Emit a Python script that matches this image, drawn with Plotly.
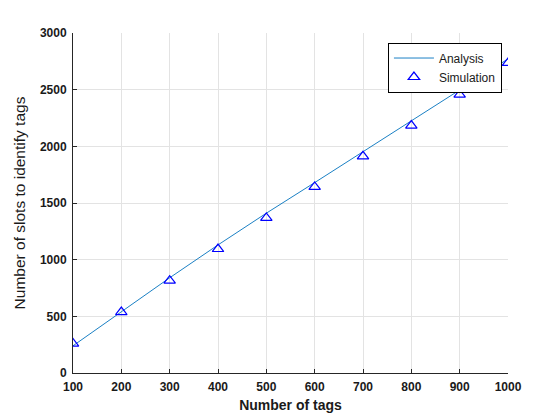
import plotly.graph_objects as go

tags = [100, 200, 300, 400, 500, 600, 700, 800, 900, 1000]
analysis = [240, 540, 840, 1130, 1410, 1680, 1955, 2225, 2497, 2772]
simulation = [260, 538, 815, 1094, 1368, 1642, 1912, 2183, 2456, 2736]

x_ticks = tags
y_ticks = [0, 500, 1000, 1500, 2000, 2500, 3000]

fig = go.Figure()
fig.add_trace(go.Scatter(x=tags, y=analysis, mode="lines", name="Analysis",
                         line=dict(color="#0072BD", width=0.9)))
fig.add_trace(go.Scatter(x=tags, y=simulation, mode="markers", name="Simulation",
                         marker=dict(symbol="triangle-up-open", size=10,
                                     color="#0000FF", line=dict(width=1.2))))

axis_common = dict(showgrid=True, gridcolor="#e3e3e3", gridwidth=1,
                   showline=True, linecolor="#262626", linewidth=1,
                   ticks="inside", ticklen=4, tickcolor="#262626",
                   tickfont=dict(family="Liberation Sans", size=12, color="#1a1a1a",
                                 weight="bold"),
                   zeroline=False, automargin=False)

# page body has an 8px margin, so the margins are shifted to compensate
fig.update_layout(
    width=560, height=420,
    margin=dict(l=65, r=60, t=25, b=55),
    paper_bgcolor="white", plot_bgcolor="white",
    font=dict(family="Liberation Sans", size=12, color="#1a1a1a"),
    xaxis=dict(range=[100, 1000], tickvals=x_ticks, ticklabelstandoff=3, **axis_common,
               title=dict(text="<b>Number of tags</b>", standoff=6,
                          font=dict(size=14))),
    yaxis=dict(range=[0, 3000], tickvals=y_ticks, ticklabelstandoff=3, **axis_common,
               title=dict(text="Number of slots to identify tags", standoff=10,
                          font=dict(size=15.5))),
    legend=dict(x=0.724, y=0.972, xanchor="left", yanchor="top",
                bordercolor="#000000", borderwidth=1, bgcolor="white",
                font=dict(size=12), tracegroupgap=0, itemwidth=40),
    showlegend=True,
)

fig.write_html("out.html")
